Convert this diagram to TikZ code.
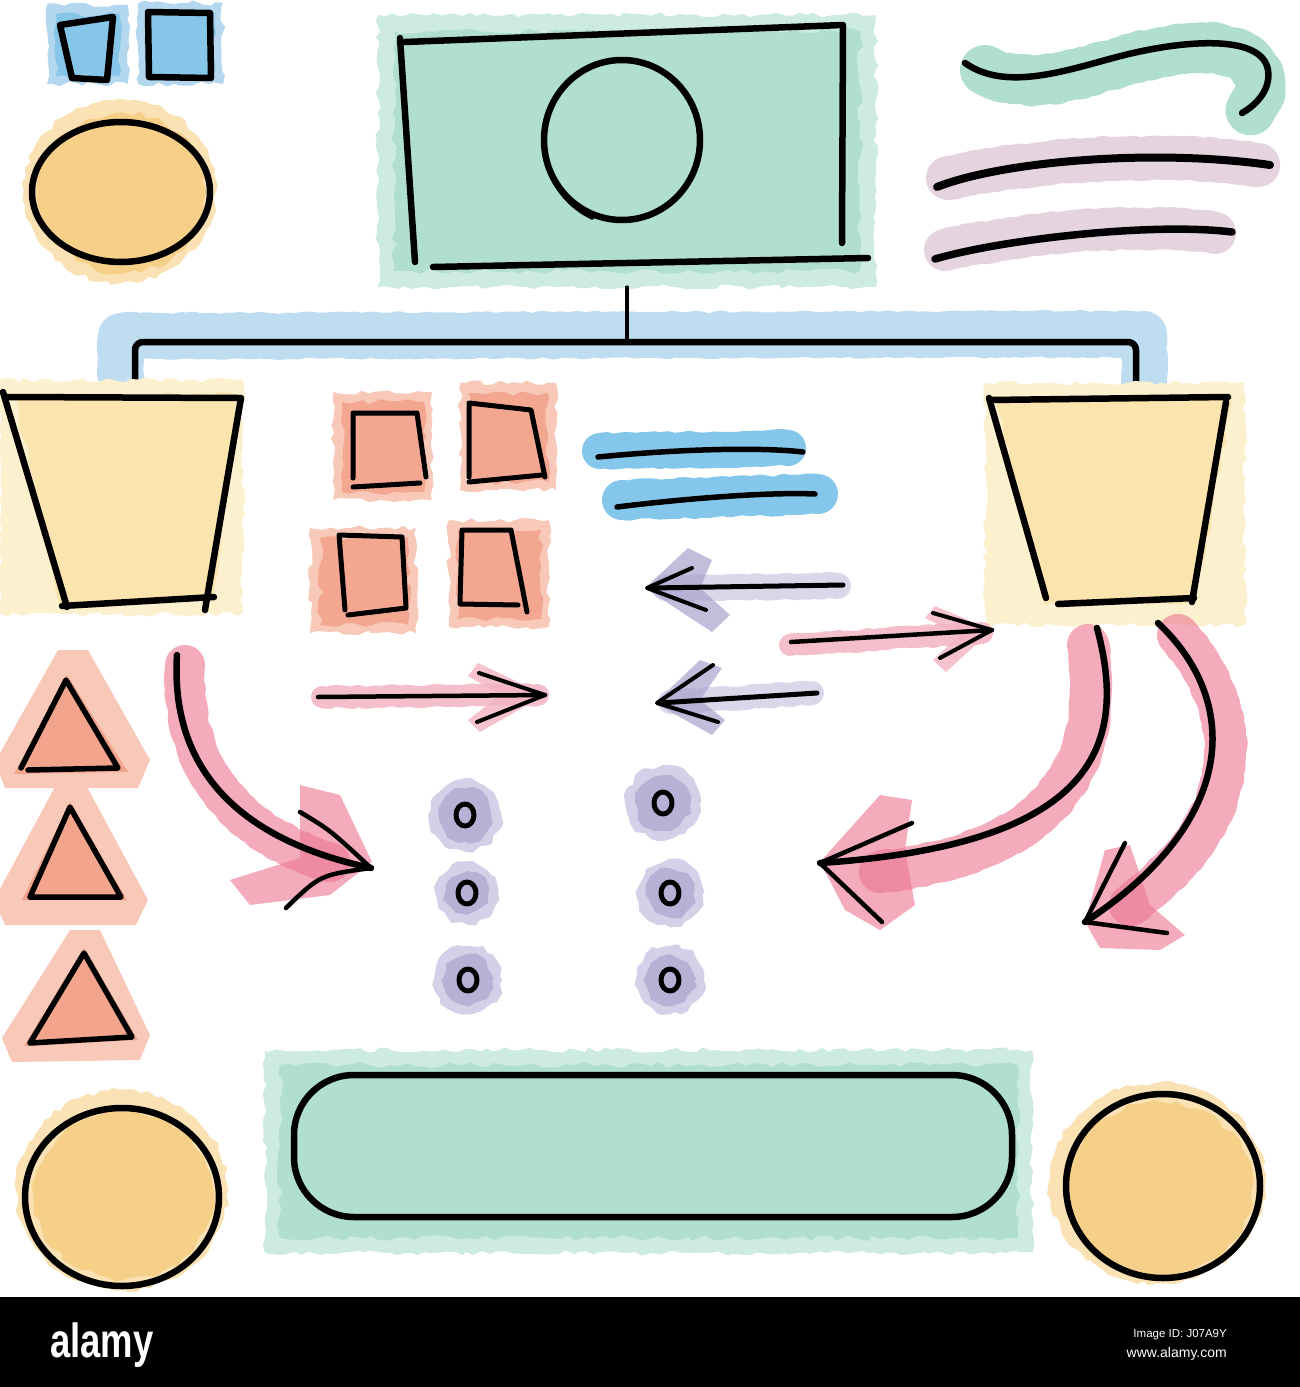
\documentclass[tikz,border=0pt]{standalone}
\usepackage{fontspec}
\newfontfamily\barfont{Liberation Sans}
\usetikzlibrary{decorations.pathmorphing}

\definecolor{tealwash}{HTML}{A3D9C6}
\definecolor{tealpale}{HTML}{CDEBE1}
\definecolor{skywash}{HTML}{6FBDE6}
\definecolor{skypale}{HTML}{B3D7EE}
\definecolor{ochrewash}{HTML}{F5C670}
\definecolor{ochrepale}{HTML}{FAE2B5}
\definecolor{sandwash}{HTML}{FAD98E}
\definecolor{sandpale}{HTML}{FDF0CE}
\definecolor{salmonwash}{HTML}{F2967C}
\definecolor{salmonpale}{HTML}{F8C8B8}
\definecolor{rosewash}{HTML}{EC7491}
\definecolor{rosepale}{HTML}{F3B3C2}
\definecolor{lilacwash}{HTML}{A9A1CC}
\definecolor{lilacpale}{HTML}{D5D0E7}
\definecolor{mauvepale}{HTML}{E0CCDA}

\begin{document}
\begin{tikzpicture}[x=1pt,y=-1pt,
pale/.style={fill=#1,draw=none,decorate,decoration={random steps,segment length=7pt,amplitude=2.5pt}},
wet/.style={fill=#1,fill opacity=.65,draw=none,decorate,decoration={random steps,segment length=9pt,amplitude=3pt}},
brush/.style={draw=#1,opacity=.85,line cap=round,line join=round,decorate,decoration={random steps,segment length=6pt,amplitude=1.2pt}},
ink/.style={draw=black,line width=6.5pt,line cap=round,line join=round},
thinink/.style={draw=black,line width=3.5pt,line cap=round,line join=round},
tag/.style={text=white,inner sep=0pt}]
\useasboundingbox (0,0) rectangle (1300,1387);

% small blue squares
\path[pale=skypale] (47,5) rectangle (128,84);
\path[wet=skywash] (56,14) rectangle (119,76);
\path[pale=skypale] (138,3) rectangle (223,84);
\path[wet=skywash] (147,12) rectangle (214,76);
\draw[ink] (60,25) -- (113,17) -- (107,80) -- (72,78) -- cycle;
\draw[ink] (148,12) -- (210,13) -- (211,78) -- (149,77) -- cycle;

% orange circle
\path[pale=ochrepale] (120,191) ellipse [x radius=96,y radius=92];
\path[wet=ochrewash] (122,193) ellipse [x radius=84,y radius=80];
\draw[ink] (121,192) ellipse [x radius=89,y radius=70];

% top box
\node[pale=tealpale,minimum width=498,minimum height=272,inner sep=0] (topbox) at (627,151) {};
\node[wet=tealwash,minimum width=466,minimum height=240,inner sep=0] (topboxwet) at (627,151) {};
\draw[ink] (400,38) -- (415,262);
\draw[ink] (405,42) -- (843,25);
\draw[ink] (843,27) -- (842,243);
\draw[ink] (433,267) -- (868,258);
\draw[ink] (622,140) ellipse [x radius=78,y radius=80];
\draw[thinink] (628,142) ++(115:84) arc[start angle=115,end angle=190,radius=84];

% strokes top right
\draw[brush=tealwash,line width=50pt] (985,70) .. controls (1050,100) and (1110,55) .. (1190,48) .. controls (1250,42) and (1275,80) .. (1250,110);
\draw[ink] (965,63) .. controls (1010,95) and (1080,65) .. (1133,53) .. controls (1190,40) and (1262,35) .. (1268,70) .. controls (1271,90) and (1256,105) .. (1242,113);
\draw[brush=mauvepale,line width=44pt] (948,178) .. controls (1040,158) and (1170,152) .. (1258,165);
\draw[ink,line width=8pt] (937,187) .. controls (1000,162) and (1150,148) .. (1270,165);
\draw[brush=mauvepale,line width=42pt] (945,250) .. controls (1030,232) and (1140,222) .. (1215,233);
\draw[ink,line width=7.5pt] (935,259) .. controls (1000,240) and (1150,222) .. (1232,232);

% connector
\path[brush=skypale,line width=46pt] (121,386) -- (121,336) -- (1144,334) -- (1144,390);
\coordinate (hub) at (627,342);
\coordinate (leftcup) at (135,396);
\coordinate (rightcup) at (1136,392);
\draw[ink,line width=3.5pt] (topbox.south) -- (hub);
\draw[ink,line width=6.5pt,rounded corners=8pt] (leftcup) |- (hub) -| (rightcup);

% left cup
\path[pale=sandpale] (0,380) rectangle (243,614);
\path[wet=sandwash,fill opacity=.5] (15,395) -- (238,395) -- (212,600) -- (60,604) -- cycle;
\draw[ink] (8,397) -- (240,398);
\draw[ink] (3,392) -- (67,607);
\draw[ink] (62,606) -- (214,597);
\draw[ink] (241,398) -- (205,610);

% right cup
\path[pale=sandpale] (985,383) rectangle (1245,625);
\path[wet=sandwash,fill opacity=.5] (995,400) -- (1232,398) -- (1195,603) -- (1045,605) -- cycle;
\draw[ink] (990,400) -- (1228,397);
\draw[ink] (989,398) -- (1046,598);
\draw[ink] (1226,402) -- (1192,602);
\draw[ink] (1058,604) -- (1194,598);

% salmon squares
\path[pale=salmonpale] (333,392) rectangle (432,500);
\path[wet=salmonwash] (342,402) rectangle (424,492);
\draw[ink,line width=5pt] (353,478) -- (353,413) -- (417,413) -- (426,477);
\draw[ink,line width=5pt] (353,487) -- (420,483);
\path[pale=salmonpale] (460,383) rectangle (556,490);
\path[wet=salmonwash] (469,393) rectangle (548,482);
\draw[ink,line width=5pt] (469,477) -- (469,403) -- (531,410) -- (545,477);
\draw[ink,line width=5pt] (469,482) -- (542,475);
\path[pale=salmonpale] (310,528) rectangle (416,633);
\path[wet=salmonwash] (320,538) rectangle (408,625);
\draw[ink,line width=5pt] (345,610) -- (339,535) -- (402,537) -- (406,607);
\draw[ink,line width=5pt] (348,615) -- (406,608);
\path[pale=salmonpale] (449,520) rectangle (549,627);
\path[wet=salmonwash] (458,530) rectangle (541,619);
\draw[ink,line width=5pt] (460,603) -- (462,530) -- (511,530) -- (527,612);
\draw[ink,line width=5pt] (460,604) -- (518,605);

% blue lines
\draw[brush=skywash,line width=36pt] (600,451) -- (788,448);
\draw[brush=skywash,line width=40pt] (622,500) -- (818,494);
\draw[ink,line width=5.5pt] (598,457) .. controls (680,449) and (760,447) .. (803,452);
\draw[ink,line width=5.5pt] (617,507) .. controls (690,498) and (770,492) .. (815,494);

% straight arrows
\draw[brush=lilacpale,line width=26pt] (665,588) -- (838,586);
\fill[lilacwash,opacity=.7] (645,588) -- (688,548) -- (712,560) -- (700,588) -- (730,615) -- (712,632) -- cycle;
\draw[ink,line width=5pt] (843,585) -- (650,588);
\draw[ink,line width=4pt] (692,568) -- (647,588) -- (706,610);
\draw[brush=lilacpale,line width=24pt] (670,702) -- (812,693);
\fill[lilacwash,opacity=.7] (655,703) -- (700,660) -- (722,668) -- (700,700) -- (725,720) -- (712,735) -- cycle;
\draw[ink,line width=5pt] (817,693) -- (659,703);
\draw[ink,line width=4pt] (713,665) -- (657,703) -- (718,722);
\draw[brush=rosepale,line width=22pt] (790,645) -- (982,633);
\fill[rosepale,opacity=.8] (992,630) -- (935,606) -- (925,618) -- (960,635) -- (933,660) -- (946,672) -- cycle;
\draw[ink,line width=4.5pt] (791,642) -- (992,630);
\draw[ink,line width=4pt] (933,613) -- (992,630) -- (940,658);
\draw[brush=rosepale,line width=22pt] (322,697) -- (538,695);
\fill[rosepale,opacity=.8] (545,695) -- (478,663) -- (468,676) -- (500,695) -- (468,720) -- (480,732) -- cycle;
\draw[ink,line width=4.5pt] (318,697) -- (545,695);
\draw[ink,line width=4pt] (479,673) -- (545,695) -- (477,722);

% curved arrows
\draw[brush=rosewash,line width=40pt,opacity=.6] (185,665) .. controls (180,770) and (240,835) .. (330,862);
\fill[rosewash,opacity=.6] (300,785) -- (340,795) -- (372,862) -- (330,895) -- (250,905) -- (230,880) -- (300,858) -- cycle;
\draw[ink] (177,655) .. controls (170,770) and (240,840) .. (371,868);
\draw[ink,line width=4.5pt] (300,812) .. controls (330,830) .. (371,868) .. controls (320,875) .. (286,908);
\draw[brush=rosewash,line width=42pt,opacity=.6] (1088,645) .. controls (1105,760) and (1060,850) .. (880,872);
\fill[rosewash,opacity=.6] (820,862) -- (880,795) -- (912,800) -- (905,850) -- (915,905) -- (880,930) -- (845,910) -- cycle;
\draw[ink] (1097,628) .. controls (1130,750) and (1090,845) .. (820,863);
\draw[ink,line width=4.5pt] (912,823) -- (820,863) -- (882,922);
\draw[brush=rosewash,line width=42pt,opacity=.6] (1178,635) .. controls (1250,720) and (1245,820) .. (1130,905);
\fill[rosewash,opacity=.6] (1085,922) -- (1105,850) -- (1130,845) -- (1150,905) -- (1185,935) -- (1160,950) -- (1100,948) -- cycle;
\draw[ink] (1158,623) .. controls (1240,700) and (1240,820) .. (1085,922);
\draw[ink,line width=4.5pt] (1125,843) -- (1085,922) -- (1167,933);

% triangles
\fill[salmonpale] (58,650) -- (88,650) -- (150,760) -- (138,788) -- (5,788) -- (-5,762) -- cycle;
\fill[salmonwash,opacity=.7] (67,675) -- (128,772) -- (14,774) -- cycle;
\draw[ink,line width=5.5pt] (21,768) -- (66,680) -- (118,768) -- (28,770);
\fill[salmonpale] (56,785) -- (86,785) -- (148,900) -- (136,925) -- (5,925) -- (-6,900) -- cycle;
\fill[salmonwash,opacity=.7] (70,802) -- (127,900) -- (22,900) -- cycle;
\draw[ink,line width=5.5pt] (30,897) -- (70,807) -- (121,897) -- (30,897);
\draw[thinink] (78,822) -- (112,880);
\fill[salmonpale] (70,930) -- (100,930) -- (150,1035) -- (140,1060) -- (12,1062) -- (2,1038) -- cycle;
\fill[salmonwash,opacity=.7] (84,948) -- (138,1040) -- (24,1046) -- cycle;
\draw[ink,line width=5.5pt] (30,1043) -- (84,953) -- (132,1037) -- (30,1043);

% purple dots
\foreach \cx/\cy/\r in {465/815/36,467/893/31,468/980/34,663/803/37,670/893/33,670/980/34}{
\path[pale=lilacpale] (\cx,\cy) circle[radius=\r];
\path[wet=lilacwash] (\cx,\cy) circle[radius=\r-10];
\draw[thinink,line width=5pt] (\cx,\cy) ellipse [x radius=9,y radius=11];
}

% bottom shapes
\path[pale=ochrepale] (122,1190) ellipse [x radius=106,y radius=100];
\path[wet=ochrewash] (124,1195) ellipse [x radius=90,y radius=84];
\draw[ink] (122,1197) ellipse [x radius=97,y radius=89];
\path[pale=tealpale] (265,1050) rectangle (1032,1253);
\path[wet=tealwash] (280,1065) rectangle (1018,1238);
\draw[ink,rounded corners=60pt] (294,1075) rectangle (1012,1217);
\path[pale=ochrepale] (1157,1183) ellipse [x radius=108,y radius=100];
\path[wet=ochrewash] (1160,1188) ellipse [x radius=92,y radius=86];
\draw[ink] (1163,1186) ellipse [x radius=97,y radius=92];

% bar
\fill[black] (0,1297) rectangle (1300,1387);
\node[tag,font=\barfont\bfseries\fontsize{48}{48}\selectfont,xscale=.76,anchor=base west] (brand) at (50,1357) {alamy};
\node[tag,font=\barfont\fontsize{11.5}{12}\selectfont,anchor=base east] (imageid) at (1227,1337) {Image ID: J07A9Y};
\node[tag,font=\barfont\fontsize{14}{15}\selectfont,anchor=base east] (website) at (1227,1357) {www.alamy.com};
\end{tikzpicture}
\end{document}
